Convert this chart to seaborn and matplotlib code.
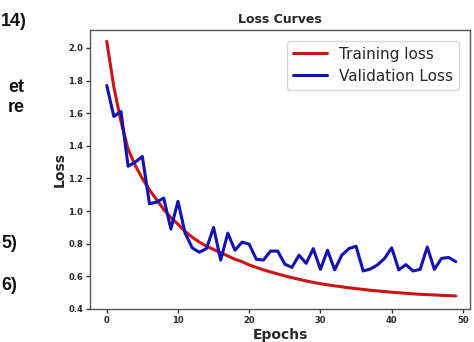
import matplotlib
matplotlib.use("Agg")
import matplotlib.pyplot as plt
import seaborn as sns
import pandas as pd
import numpy as np

epochs = list(range(50))
training_loss = [2.04, 1.76, 1.55, 1.38, 1.28, 1.20, 1.13, 1.07, 1.01, 0.96,
                 0.92, 0.875, 0.84, 0.81, 0.785, 0.765, 0.745, 0.725, 0.705, 0.69,
                 0.67, 0.655, 0.64, 0.627, 0.615, 0.603, 0.592, 0.582, 0.572, 0.563,
                 0.555, 0.548, 0.542, 0.536, 0.53, 0.525, 0.52, 0.515, 0.511, 0.507,
                 0.503, 0.50, 0.496, 0.493, 0.49, 0.488, 0.486, 0.484, 0.482, 0.48]
validation_loss = [1.77, 1.58, 1.61, 1.275, 1.30, 1.335, 1.045, 1.055, 1.08, 0.89,
                   1.06, 0.865, 0.775, 0.748, 0.77, 0.90, 0.70, 0.865, 0.76, 0.81,
                   0.797, 0.705, 0.70, 0.755, 0.755, 0.675, 0.655, 0.73, 0.68, 0.77,
                   0.643, 0.76, 0.64, 0.73, 0.77, 0.785, 0.633, 0.645, 0.67, 0.71,
                   0.775, 0.64, 0.672, 0.633, 0.643, 0.78, 0.643, 0.71, 0.716, 0.69]
series_names = ["Training loss", "Validation Loss"]
xticks = [0, 10, 20, 30, 40, 50]
yticks = [0.4, 0.6, 0.8, 1.0, 1.2, 1.4, 1.6, 1.8, 2.0]

sns.set_style("ticks")
plt.rcParams['font.family'] = ['DejaVu Sans']

df = pd.DataFrame({
    "Epochs": epochs * 2,
    "Loss": training_loss + validation_loss,
    "Series": [series_names[0]] * 50 + [series_names[1]] * 50,
})

fig = plt.figure(figsize=(4.74, 3.42), dpi=100)
ax = fig.add_axes([90/474, 1 - 309/342, (470 - 90)/474, (309 - 30)/342])

sns.lineplot(data=df, x="Epochs", y="Loss", hue="Series",
             palette={series_names[0]: "#cc1414", series_names[1]: "#1212b4"},
             linewidth=2.2, ax=ax)

ax.set_xlim(-2.35, 51.0)
ax.set_ylim(0.4, 2.11)
ax.set_xticks(xticks)
ax.set_yticks(yticks)
ax.set_xticklabels([str(t) for t in xticks], fontsize=6, fontweight="bold")
ax.set_yticklabels([f"{t:.1f}" for t in yticks], fontsize=6, fontweight="bold")
ax.tick_params(length=3, width=1, color="#333333", pad=2)
for s in ax.spines.values():
    s.set_visible(True)
    s.set_color("#555555")
    s.set_linewidth(1.0)

ax.set_xlabel("Epochs", fontsize=10, fontweight="bold", labelpad=2)
ax.set_ylabel("Loss", fontsize=10, fontweight="bold", labelpad=1)
ax.set_title("Loss Curves", fontsize=9, fontweight="bold", pad=5)

leg = ax.legend(loc="upper right", fontsize=11, handlelength=2.2,
                frameon=True, borderaxespad=0.7, labelspacing=0.45)
leg.get_frame().set_edgecolor("#cccccc")
for line in leg.get_lines():
    line.set_linewidth(2.2)

# fragments of surrounding page text
frag_kw = dict(fontsize=13, fontweight="bold", family="Liberation Sans",
               ha="left", va="center", color="#111111")
fig.text(1/474, 1 - 22/342, "14)", **frag_kw)
fig.text(8/474, 1 - 88/342, "et", **frag_kw)
fig.text(8/474, 1 - 107/342, "re", **frag_kw)
fig.text(1/474, 1 - 243/342, "5)", **frag_kw)
fig.text(1/474, 1 - 285/342, "6)", **frag_kw)

fig.savefig("out.png", dpi=100)
